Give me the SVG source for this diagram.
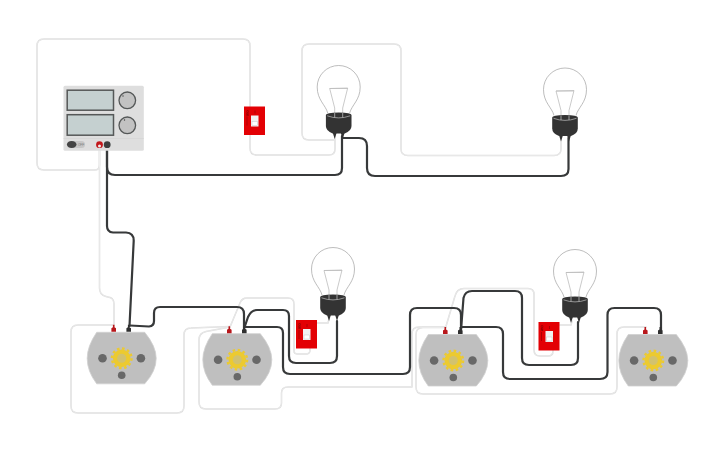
<svg xmlns="http://www.w3.org/2000/svg" width="725" height="453" viewBox="0 0 725 453">
<style>
text{font-family:"Liberation Sans",Arial,sans-serif}
.wire{fill:none;stroke-linecap:round;stroke-linejoin:round}
.wo{stroke:#d9d9d9;stroke-width:1.500}
.wi{stroke:#f7f7f7;stroke-width:.5}
.blk{stroke:#37393a;stroke-width:2.200}
.glass{fill:none;stroke:#a0a0a0;stroke-width:.7}
.fil{fill:none;stroke:#bdbdbd;stroke-width:.8}
.dark{fill:#333}
.lcd{fill:#c5d0d0;stroke:#555858;stroke-width:1.500}
.knob{fill:#c2c2c2;stroke:#555858;stroke-width:1.300}
.hole{fill:#686868}
.tiny{font-size:3px;fill:#777}
.sw{font-size:3.200px;fill:#7a0000;font-weight:bold}
</style>
<defs>
<path id="w1" d="M99.500,148V165Q99.500,170 94.500,170H44Q37,170 37,163V46Q37,39 44,39H243Q250,39 250,46V148Q250,155 257,155H329Q335,155 335,149V136"/>
<path id="w2" d="M334,140H309Q302,140 302,133V51Q302,44 309,44H394Q401,44 401,51V149Q401,155.500 408,155.500H554Q561,155.500 561,149V138"/>
<path id="w3" d="M99.500,148V288Q99.500,295 106,296.500L110,297.500Q114,299 114,304V326"/>
<path id="w4" d="M114,325H78Q71,325 71,332V406Q71,413 78,413H177Q184,413 184,406V335Q184,328 191,328L230,326.500"/>
<path id="w5" d="M230,327L206,331.500Q199,333 199,340V402Q199,409 206,409H275Q281.500,409 281.500,403V393Q281.500,387 288,387H412V334Q412,327 419,327H446"/>
<path id="w6" d="M446,327.500H423Q416,327.500 416,334.500V387Q416,394 423,394H610Q617,394 617,387V334Q617,327 624,327H646"/>
<path id="w7" d="M230,327L240,303Q242,298 247,298H288Q294,298 294,304V351Q294,354 298,354H306Q310,354 310,350V345"/>
<path id="w8" d="M317,323H328L329,319"/>
<path id="w9" d="M445.500,328L455,296Q457,288.500 464,288.500H528Q534,288.500 534,294.500V350Q534,356 540,356H548Q553,356 553,351V347"/>
<path id="w10" d="M559,325H571L572,321"/>
<g id="lamp-shape">
<path class="glass" d="M-11,113C-13,105 -21.500,100 -21.500,87A21.500,21.500 0 1 1 21.500,87C21.500,100 13,105 11,113"/>
<path class="fil" d="M-4,115V108L-9,88.500L9,88L4,108V115M-9,88.500H9"/>
<path class="dark" d="M-4,139L-6.500,131H-1.500ZM4,139L1.500,131H6.500Z"/>
<path class="dark" d="M-12.800,115V126Q-12.800,131 -6,133.500H6Q12.800,131 12.800,126V115Q12.800,112.500 0,112.500Q-12.800,112.500 -12.800,115Z"/>
<path fill="none" stroke="#bdbdbd" stroke-width=".7" d="M-11.500,115.800Q0,120 11.500,115.800"/>
<path class="fil" d="M-4,113V117.500M4,113V117.500"/>
</g>
<g id="motor-shape">
<path fill="#bfbfbf" stroke="#cfcfcf" stroke-width=".8" d="M-25,-26H23Q34.500,-12 34.500,0Q34.500,13 23,25.500H-25Q-34.500,13 -34.500,0Q-34.500,-12 -25,-26Z"/>
<circle class="hole" cx="-19.200" cy="0" r="4.300"/>
<circle class="hole" cx="19.200" cy="0" r="4.300"/>
<circle class="hole" cx="0" cy="17" r="3.800"/>
<circle r="8.800" fill="#ecca30"/>
<circle r="9.800" fill="none" stroke="#ecca30" stroke-width="2.400" stroke-dasharray="2.570 2.570"/>
<circle r="4.500" fill="#d2c26e"/>
<path fill="#b8171b" d="M-10.300,-26.500V-30L-8.800,-31V-33.500H-7.200V-31L-5.700,-30V-26.500Z"/>
<path fill="#303030" d="M4.700,-26.500V-30L6.200,-31V-33.500H7.800V-31L9.300,-30V-26.500Z"/>
</g>
<g id="switch-shape">
<rect width="21" height="28.500" fill="#e30004"/>
<rect x="7" y="9" width="7.500" height="11" fill="#f1f1f1"/>
<rect x="8" y="15" width="5.500" height="4" fill="#fff" stroke="#bbb" stroke-width=".4"/>
<text class="sw" x="2" y="6">O</text>
<text class="sw" x="2" y="9">N</text>
<path stroke="#7a0000" stroke-width=".5" d="M3,10V19M11,4V7"/>
</g>
</defs>

<g id="connectors">
<g class="wire wo">
<use href="#w1"/><use href="#w2"/><use href="#w3"/><use href="#w4"/><use href="#w5"/><use href="#w6"/><use href="#w7"/><use href="#w8"/><use href="#w9"/><use href="#w10"/>
</g>
<g class="wire wi">
<use href="#w1"/><use href="#w2"/><use href="#w3"/><use href="#w4"/><use href="#w5"/><use href="#w6"/><use href="#w7"/><use href="#w8"/><use href="#w9"/><use href="#w10"/>
</g>
<g class="wire blk">
<path d="M107,146V226Q107,232 113,232.500H126Q134,233 133.700,241L129.500,326"/>
<path d="M130,325.500L149,326.500Q154,326 154,321V313Q154,307 160,307H237Q244,307 244,314V329"/>
<path d="M107,146V167Q107,175 115,175H335Q342,175 342,168V136"/>
<path d="M342,138H359Q367,138 367,146V168Q367,176 375,176H561Q568.500,176 568.500,169V138"/>
<path d="M244.300,328L248,317Q251,310 257,310H283Q289,310 289,316V356Q289,363 296,363H330Q337,363 337,356V321"/>
<path d="M244,327H277Q283,327 283,333V367Q283,374 290,374H403Q410,374 410,367V315Q410,308 417,308H454Q461,308 461,315V329"/>
<path d="M461,330L463.500,298Q465,291 472,291H515Q522,291 522,298V358Q522,365 529,365H571Q578,365 578,358V322"/>
<path d="M461,327H496Q503,327 503,334V372Q503,379 510,379H600Q607.500,379 607.500,372V315Q607.500,308 614.500,308H654Q661,308 661,315V331"/>
</g>
</g>

<g id="power-supply">
<rect x="63.500" y="85.700" width="80.300" height="65" rx="1.500" fill="#dedede"/>
<path stroke="#d2d2d2" stroke-width=".6" d="M63.500,138.500H143.800"/>
<rect class="lcd" x="67.200" y="90.200" width="46.300" height="20"/>
<rect class="lcd" x="67.200" y="114.700" width="46.300" height="20.500"/>
<circle class="knob" cx="127.300" cy="100.300" r="8.300"/>
<circle class="knob" cx="127.300" cy="125.300" r="8.300"/>
<circle cx="123" cy="96" r=".7" fill="#444"/>
<circle cx="124.500" cy="120" r=".7" fill="#444"/>
<rect x="67" y="141" width="18" height="7" rx="3.500" fill="#c6c6c6"/>
<ellipse cx="71.700" cy="144.500" rx="4.800" ry="3.500" fill="#444"/>
<text class="tiny" x="78" y="145.800">OFF</text>
<circle cx="99.500" cy="144.700" r="3.400" fill="#c2181c"/>
<circle cx="99.500" cy="146" r="1.500" fill="#eee"/>
<circle cx="107.200" cy="144.700" r="3.400" fill="#3d4040"/>
</g>

<use id="switch-1" href="#switch-shape" x="244" y="106.500"/>
<use id="switch-2" href="#switch-shape" x="296" y="320"/>
<use id="switch-3" href="#switch-shape" x="538.500" y="322"/>

<g id="lamp-1" transform="translate(338.700,0)"><use href="#lamp-shape"/></g>
<g id="lamp-2" transform="translate(565,2.500)"><use href="#lamp-shape"/></g>
<g id="lamp-3" transform="translate(333,182)"><use href="#lamp-shape"/></g>
<g id="lamp-4" transform="translate(575,184)"><use href="#lamp-shape"/></g>

<g id="motor-1" transform="translate(121.700,358.300)"><use href="#motor-shape"/></g>
<g id="motor-2" transform="translate(237.300,359.700)"><use href="#motor-shape"/></g>
<g id="motor-3" transform="translate(453.300,360.500)"><use href="#motor-shape"/></g>
<g id="motor-4" transform="translate(653.300,360.500)"><use href="#motor-shape"/></g>
</svg>
